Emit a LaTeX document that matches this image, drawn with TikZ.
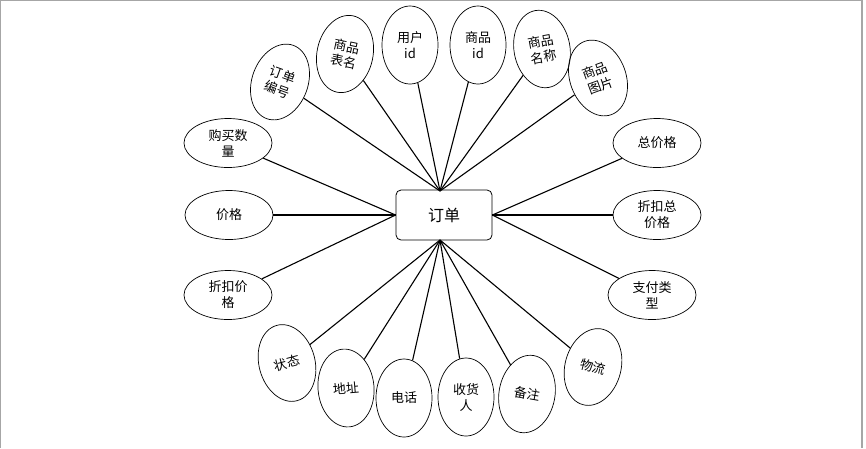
\documentclass[tikz,border=0pt]{standalone}
\usepackage{fontspec}
\setmainfont{Noto Sans CJK SC}
\usetikzlibrary{shapes.geometric}
\begin{document}
\begin{tikzpicture}[x=1pt,y=-1pt,
  vattr/.style={ellipse,draw,line width=0.7pt,inner sep=0pt,minimum width=56pt,minimum height=78pt,align=center,font=\fontsize{13}{16}\selectfont},
  hattr/.style={ellipse,draw,line width=0.7pt,inner sep=0pt,minimum width=88pt,minimum height=49pt,align=center,font=\fontsize{13}{16}\selectfont},
  link/.style={line width=1.1pt}]
\useasboundingbox (0,0) rectangle (866,448);
\draw[gray!70,line width=1.5pt] (0,448) -- (0,0.7) -- (862,0.7) -- (862,448);
\node[draw,rounded corners=5pt,line width=0.8pt,minimum width=96pt,minimum height=50pt,font=\fontsize{16}{19}\selectfont] (c) at (444,215) {订单};
% top
\node[vattr,rotate=-20] (a1) at (280,82) {订单\\编号};
\node[vattr,rotate=-12] (a2) at (345,54) {商品\\表名};
\node[vattr] (a3) at (410,45) {用户\\id};
\node[vattr] (a4) at (478,45) {商品\\id};
\node[vattr,rotate=10] (a5) at (542,49) {商品\\名称};
\node[vattr,rotate=20] (a6) at (598,78) {商品\\图片};
% left
\node[hattr] (l1) at (228,143) {购买数\\量};
\node[hattr] (l2) at (229,215) {价格};
\node[hattr] (l3) at (228,295) {折扣价\\格};
% right
\node[hattr] (r1) at (657,143) {总价格};
\node[hattr] (r2) at (657,215) {折扣总\\价格};
\node[hattr] (r3) at (652,295) {支付类\\型};
% bottom
\node[vattr,rotate=15] (b1) at (287,363) {状态};
\node[vattr,rotate=5] (b2) at (346,388) {地址};
\node[vattr] (b3) at (404,398) {电话};
\node[vattr] (b4) at (466,397) {收货\\人};
\node[vattr,rotate=-10] (b5) at (527,394) {备注};
\node[vattr,rotate=-15] (b6) at (593,367) {物流};
\coordinate (ct) at (440,191);
\coordinate (cb) at (440,240);
\foreach \n in {a1,a2,a3,a4,a5,a6} \draw[link] (\n) -- (ct);
\foreach \n in {b1,b2,b3,b4,b5,b6} \draw[link] (\n) -- (cb);
\foreach \n in {l1,l2,l3} \draw[link] (\n) -- (c.west);
\foreach \n in {r1,r2,r3} \draw[link] (\n) -- (c.east);
\end{tikzpicture}
\end{document}
